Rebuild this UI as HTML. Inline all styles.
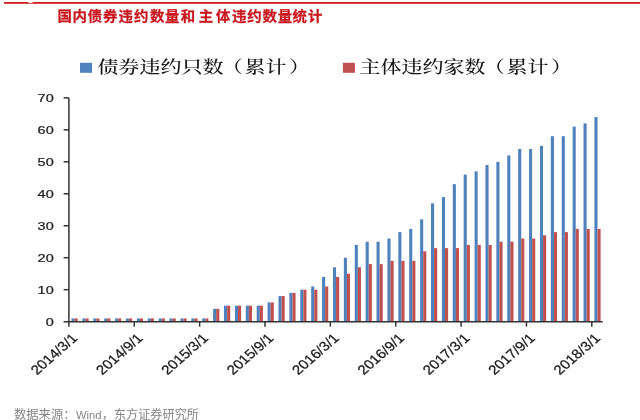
<!DOCTYPE html>
<html lang="zh"><head><meta charset="utf-8"><title>国内债券违约数量和主体违约数量统计</title>
<style>
html,body{margin:0;padding:0;background:#fff;}
body{width:640px;height:420px;overflow:hidden;position:relative;font-family:"Liberation Sans","Noto Sans CJK SC",sans-serif;}
svg{position:absolute;left:0;top:0;display:block;}
.title{font-family:"Liberation Sans","Noto Sans CJK SC",sans-serif;font-weight:700;font-size:14px;fill:#c9151e;stroke:#c9151e;stroke-width:0.25px;}
.leg{font-family:"Liberation Serif","Noto Serif CJK SC",serif;font-size:16.6px;font-weight:500;fill:#151515;}
.ax{font-family:"Liberation Sans","Noto Sans CJK SC",sans-serif;font-size:11.3px;fill:#1a1a1a;stroke:#1a1a1a;stroke-width:0.22px;}
.axx{font-family:"Liberation Sans","Noto Sans CJK SC",sans-serif;font-size:13.25px;fill:#1a1a1a;stroke:#1a1a1a;stroke-width:0.25px;}
.src{font-family:"Liberation Sans","Noto Sans CJK SC",sans-serif;font-size:12.35px;fill:#858585;}
</style></head><body>
<svg width="640" height="420" viewBox="0 0 640 420">
<rect x="0" y="0" width="640" height="420" fill="#ffffff"/>
<rect x="4" y="2" width="636" height="1.8" fill="#cf1f22"/>
<rect x="28.3" y="1.8" width="4.4" height="1.3" fill="#fff" fill-opacity="0.85"/>
<text class="title" text-anchor="middle" transform="scale(1.03,1)" y="21.4" x="62.77 77.33 92.18 107.04 121.94 137.09 152.52 167.23 182.52 200.00 216.75 232.23 247.09 261.75 276.60 291.02 306.12">国内债券违约数量和主体违约数量统计</text>
<rect x="80" y="62.8" width="12" height="10" fill="#4f81bd"/>
<text class="leg" dx="0 0 0 0 0 0 -1.5 1.5 0 1.9" transform="translate(97.6,72.7) scale(1.265,1)">债券违约只数（累计）</text>
<rect x="342.9" y="62.8" width="12" height="10" fill="#c0504d"/>
<text class="leg" dx="0 0 0 0 0 0 -1.5 1.5 0 1.9" transform="translate(359.6,72.7) scale(1.265,1)">主体违约家数（累计）</text>
<g fill="#4f81bd">
<rect x="71.50" y="318.45" width="3.1" height="3.20"/>
<rect x="82.39" y="318.45" width="3.1" height="3.20"/>
<rect x="93.29" y="318.45" width="3.1" height="3.20"/>
<rect x="104.18" y="318.45" width="3.1" height="3.20"/>
<rect x="115.08" y="318.45" width="3.1" height="3.20"/>
<rect x="125.97" y="318.45" width="3.1" height="3.20"/>
<rect x="136.86" y="318.45" width="3.1" height="3.20"/>
<rect x="147.76" y="318.45" width="3.1" height="3.20"/>
<rect x="158.65" y="318.45" width="3.1" height="3.20"/>
<rect x="169.55" y="318.45" width="3.1" height="3.20"/>
<rect x="180.44" y="318.45" width="3.1" height="3.20"/>
<rect x="191.33" y="318.45" width="3.1" height="3.20"/>
<rect x="202.23" y="318.45" width="3.1" height="3.20"/>
<rect x="213.12" y="308.86" width="3.1" height="12.79"/>
<rect x="224.02" y="305.66" width="3.1" height="15.98"/>
<rect x="234.91" y="305.66" width="3.1" height="15.98"/>
<rect x="245.80" y="305.66" width="3.1" height="15.98"/>
<rect x="256.70" y="305.66" width="3.1" height="15.98"/>
<rect x="267.59" y="302.47" width="3.1" height="19.18"/>
<rect x="278.49" y="296.07" width="3.1" height="25.58"/>
<rect x="289.38" y="292.88" width="3.1" height="28.77"/>
<rect x="300.27" y="289.68" width="3.1" height="31.97"/>
<rect x="311.17" y="286.48" width="3.1" height="35.17"/>
<rect x="322.06" y="276.89" width="3.1" height="44.76"/>
<rect x="332.96" y="267.30" width="3.1" height="54.35"/>
<rect x="343.85" y="257.71" width="3.1" height="63.94"/>
<rect x="354.74" y="244.92" width="3.1" height="76.73"/>
<rect x="365.64" y="241.72" width="3.1" height="79.92"/>
<rect x="376.53" y="241.72" width="3.1" height="79.92"/>
<rect x="387.43" y="238.53" width="3.1" height="83.12"/>
<rect x="398.32" y="232.13" width="3.1" height="89.52"/>
<rect x="409.21" y="228.94" width="3.1" height="92.71"/>
<rect x="420.11" y="219.35" width="3.1" height="102.30"/>
<rect x="431.00" y="203.36" width="3.1" height="118.29"/>
<rect x="441.90" y="196.97" width="3.1" height="124.68"/>
<rect x="452.79" y="184.18" width="3.1" height="137.47"/>
<rect x="463.68" y="174.59" width="3.1" height="147.06"/>
<rect x="474.58" y="171.39" width="3.1" height="150.26"/>
<rect x="485.47" y="165.00" width="3.1" height="156.65"/>
<rect x="496.37" y="161.80" width="3.1" height="159.85"/>
<rect x="507.26" y="155.41" width="3.1" height="166.24"/>
<rect x="518.15" y="149.01" width="3.1" height="172.64"/>
<rect x="529.05" y="149.01" width="3.1" height="172.64"/>
<rect x="539.94" y="145.81" width="3.1" height="175.84"/>
<rect x="550.84" y="136.22" width="3.1" height="185.43"/>
<rect x="561.73" y="136.22" width="3.1" height="185.43"/>
<rect x="572.62" y="126.63" width="3.1" height="195.02"/>
<rect x="583.52" y="123.44" width="3.1" height="198.21"/>
<rect x="594.41" y="117.04" width="3.1" height="204.61"/>
</g>
<g fill="#c0504d">
<rect x="74.60" y="318.45" width="3.1" height="3.20"/>
<rect x="85.49" y="318.45" width="3.1" height="3.20"/>
<rect x="96.39" y="318.45" width="3.1" height="3.20"/>
<rect x="107.28" y="318.45" width="3.1" height="3.20"/>
<rect x="118.18" y="318.45" width="3.1" height="3.20"/>
<rect x="129.07" y="318.45" width="3.1" height="3.20"/>
<rect x="139.96" y="318.45" width="3.1" height="3.20"/>
<rect x="150.86" y="318.45" width="3.1" height="3.20"/>
<rect x="161.75" y="318.45" width="3.1" height="3.20"/>
<rect x="172.65" y="318.45" width="3.1" height="3.20"/>
<rect x="183.54" y="318.45" width="3.1" height="3.20"/>
<rect x="194.43" y="318.45" width="3.1" height="3.20"/>
<rect x="205.33" y="318.45" width="3.1" height="3.20"/>
<rect x="216.22" y="308.86" width="3.1" height="12.79"/>
<rect x="227.12" y="305.66" width="3.1" height="15.98"/>
<rect x="238.01" y="305.66" width="3.1" height="15.98"/>
<rect x="248.90" y="305.66" width="3.1" height="15.98"/>
<rect x="259.80" y="305.66" width="3.1" height="15.98"/>
<rect x="270.69" y="302.47" width="3.1" height="19.18"/>
<rect x="281.59" y="296.07" width="3.1" height="25.58"/>
<rect x="292.48" y="292.88" width="3.1" height="28.77"/>
<rect x="303.37" y="289.68" width="3.1" height="31.97"/>
<rect x="314.27" y="289.68" width="3.1" height="31.97"/>
<rect x="325.16" y="286.48" width="3.1" height="35.17"/>
<rect x="336.06" y="276.89" width="3.1" height="44.76"/>
<rect x="346.95" y="273.69" width="3.1" height="47.95"/>
<rect x="357.84" y="267.30" width="3.1" height="54.35"/>
<rect x="368.74" y="264.10" width="3.1" height="57.55"/>
<rect x="379.63" y="264.10" width="3.1" height="57.55"/>
<rect x="390.53" y="260.91" width="3.1" height="60.74"/>
<rect x="401.42" y="260.91" width="3.1" height="60.74"/>
<rect x="412.31" y="260.91" width="3.1" height="60.74"/>
<rect x="423.21" y="251.32" width="3.1" height="70.33"/>
<rect x="434.10" y="248.12" width="3.1" height="73.53"/>
<rect x="445.00" y="248.12" width="3.1" height="73.53"/>
<rect x="455.89" y="248.12" width="3.1" height="73.53"/>
<rect x="466.78" y="244.92" width="3.1" height="76.73"/>
<rect x="477.68" y="244.92" width="3.1" height="76.73"/>
<rect x="488.57" y="244.92" width="3.1" height="76.73"/>
<rect x="499.47" y="241.72" width="3.1" height="79.92"/>
<rect x="510.36" y="241.72" width="3.1" height="79.92"/>
<rect x="521.25" y="238.53" width="3.1" height="83.12"/>
<rect x="532.15" y="238.53" width="3.1" height="83.12"/>
<rect x="543.04" y="235.33" width="3.1" height="86.32"/>
<rect x="553.94" y="232.13" width="3.1" height="89.52"/>
<rect x="564.83" y="232.13" width="3.1" height="89.52"/>
<rect x="575.72" y="228.94" width="3.1" height="92.71"/>
<rect x="586.62" y="228.94" width="3.1" height="92.71"/>
<rect x="597.51" y="228.94" width="3.1" height="92.71"/>
</g>
<g stroke="#333333" stroke-width="1.5" fill="none">
<line x1="68.9" y1="97.86" x2="68.9" y2="326.65"/>
<line x1="63.60000000000001" y1="321.65" x2="602.71" y2="321.65"/>
<line x1="63.60000000000001" y1="289.68" x2="68.9" y2="289.68"/>
<line x1="63.60000000000001" y1="257.71" x2="68.9" y2="257.71"/>
<line x1="63.60000000000001" y1="225.74" x2="68.9" y2="225.74"/>
<line x1="63.60000000000001" y1="193.77" x2="68.9" y2="193.77"/>
<line x1="63.60000000000001" y1="161.80" x2="68.9" y2="161.80"/>
<line x1="63.60000000000001" y1="129.83" x2="68.9" y2="129.83"/>
<line x1="63.60000000000001" y1="97.86" x2="68.9" y2="97.86"/>
<line x1="134.26" y1="321.65" x2="134.26" y2="326.65"/>
<line x1="199.63" y1="321.65" x2="199.63" y2="326.65"/>
<line x1="264.99" y1="321.65" x2="264.99" y2="326.65"/>
<line x1="330.36" y1="321.65" x2="330.36" y2="326.65"/>
<line x1="395.72" y1="321.65" x2="395.72" y2="326.65"/>
<line x1="461.08" y1="321.65" x2="461.08" y2="326.65"/>
<line x1="526.45" y1="321.65" x2="526.45" y2="326.65"/>
<line x1="591.81" y1="321.65" x2="591.81" y2="326.65"/>
</g>
<text class="ax" text-anchor="end" transform="translate(53.7,325.50) scale(1.28,1)">0</text>
<text class="ax" text-anchor="end" transform="translate(53.7,293.53) scale(1.28,1)">10</text>
<text class="ax" text-anchor="end" transform="translate(53.7,261.56) scale(1.28,1)">20</text>
<text class="ax" text-anchor="end" transform="translate(53.7,229.59) scale(1.28,1)">30</text>
<text class="ax" text-anchor="end" transform="translate(53.7,197.62) scale(1.28,1)">40</text>
<text class="ax" text-anchor="end" transform="translate(53.7,165.65) scale(1.28,1)">50</text>
<text class="ax" text-anchor="end" transform="translate(53.7,133.68) scale(1.28,1)">60</text>
<text class="ax" text-anchor="end" transform="translate(53.7,101.71) scale(1.28,1)">70</text>
<text class="axx" text-anchor="end" transform="translate(78.40,339.05) scale(1.14,1) rotate(-45)">2014/3/1</text>
<text class="axx" text-anchor="end" transform="translate(143.76,339.05) scale(1.14,1) rotate(-45)">2014/9/1</text>
<text class="axx" text-anchor="end" transform="translate(209.13,339.05) scale(1.14,1) rotate(-45)">2015/3/1</text>
<text class="axx" text-anchor="end" transform="translate(274.49,339.05) scale(1.14,1) rotate(-45)">2015/9/1</text>
<text class="axx" text-anchor="end" transform="translate(339.86,339.05) scale(1.14,1) rotate(-45)">2016/3/1</text>
<text class="axx" text-anchor="end" transform="translate(405.22,339.05) scale(1.14,1) rotate(-45)">2016/9/1</text>
<text class="axx" text-anchor="end" transform="translate(470.58,339.05) scale(1.14,1) rotate(-45)">2017/3/1</text>
<text class="axx" text-anchor="end" transform="translate(535.95,339.05) scale(1.14,1) rotate(-45)">2017/9/1</text>
<text class="axx" text-anchor="end" transform="translate(601.31,339.05) scale(1.14,1) rotate(-45)">2018/3/1</text>
<text class="src" y="419.1"><tspan x="13.9">数据来源：</tspan><tspan x="76" style="font-size:11.2px">Wind</tspan><tspan x="101.8" style="font-size:12.15px">，东方证券研究所</tspan></text>
</svg></body></html>
